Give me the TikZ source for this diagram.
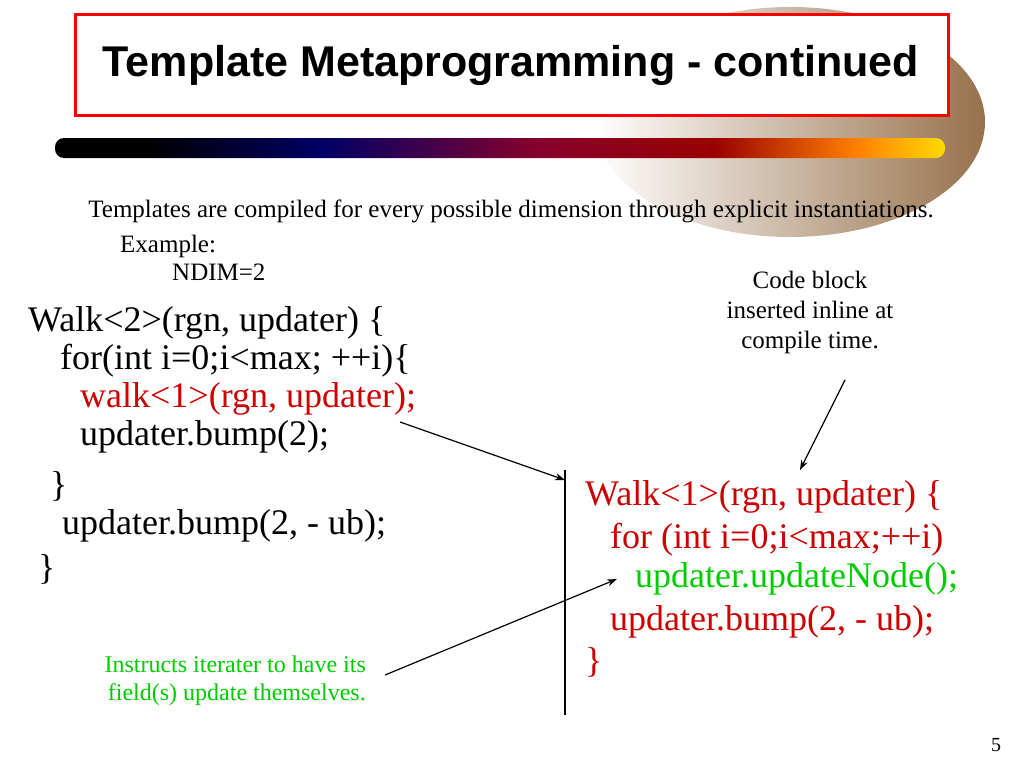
\documentclass[tikz,border=0pt]{standalone}
\usepackage{fontspec}
\setmainfont{Liberation Serif}
\newfontfamily\sansf{Liberation Sans}
\usetikzlibrary{arrows.meta}
\definecolor{codered}{RGB}{204,0,0}
\definecolor{codegreen}{RGB}{0,204,0}
\pgfdeclarehorizontalshading{barshade}{100bp}{color(0bp)=(black); color(30bp)=(black); color(40bp)=(blue!40!black); color(52bp)=(purple!70!black); color(62bp)=(red!60!black); color(70bp)=(orange); color(75bp)=(yellow!70!orange); color(100bp)=(yellow!70!orange)}
\begin{document}
\begin{tikzpicture}[x=1pt,y=-1pt,
  code/.style={anchor=west,inner sep=0pt,font=\fontsize{36}{40}\selectfont},
  small/.style={inner sep=0pt,font=\fontsize{25}{30}\selectfont},
  arr/.style={-{Stealth[length=10pt,width=7pt]},line width=1.2pt}]
\useasboundingbox (0,0) rectangle (1024,768);
\fill[white] (0,0) rectangle (1024,768);
% swoosh
\begin{scope}
\clip (600,0) rectangle (1024,260);
\shade[left color=white,right color=brown!70!black,opacity=0.85] (790,122) ellipse [x radius=195,y radius=115];
\end{scope}
% bar
\shade[shading=barshade,rounded corners=9pt] (55,138) rectangle (945,158);
% title
\draw[red,line width=3pt,fill=white] (75,15) rectangle (948,115);
\node[font=\sansf\bfseries\fontsize{43}{48}\selectfont] (title) at (511,65) {Template Metaprogramming - continued};
\node[small] (intro) at (511,211) {Templates are compiled for every possible dimension through explicit instantiations.};
\node[small,anchor=west] (ex) at (120,246) {Example:};
\node[small,anchor=west] (ndim) at (172,272) {NDIM=2};
% left code
\node[code] (l1) at (28,323) {Walk<2>(rgn, updater) \{};
\node[code] (l2) at (60,361) {for(int i=0;i<max; ++i)\{};
\node[code,text=codered] (l3) at (80,399) {walk<1>(rgn, updater);};
\node[code] (l4) at (80,437) {updater.bump(2);};
\node[code] (l5) at (50,486) {\}};
\node[code] (l6) at (62,526) {updater.bump(2, - ub);};
\node[code] (l7) at (38,569) {\}};
% right code
\begin{scope}[every node/.append style={text=codered}]
\node[code] (r1) at (585,497) {Walk<1>(rgn, updater) \{};
\node[code] (r2) at (610,540) {for (int i=0;i<max;++i)};
\node[code,text=codegreen] (r3) at (635,579) {updater.updateNode();};
\node[code] (r4) at (610,622) {updater.bump(2, - ub);};
\node[code] (r5) at (585,662) {\}};
\end{scope}
\node[small,align=center] (cb) at (810,312) {Code block\\inserted inline at\\compile time.};
\node[small,align=right,text=codegreen,anchor=east,font=\fontsize{24}{28}\selectfont] (ins) at (366,681) {Instructs iterater to have its\\field(s) update themselves.};
\node[font=\fontsize{20}{22}\selectfont] (pg) at (996,745) {5};
% lines
\coordinate (vt) at (565,470);
\coordinate (vb) at (565,715);
\draw[line width=1.2pt] (vt) -- (vb);
\coordinate (a1s) at (400,422);
\coordinate (a1e) at (565,480);
\coordinate (a2s) at (845,380);
\coordinate (a2e) at (800,470);
\coordinate (a3s) at (385,675);
\coordinate (a3e) at (617,579);
\draw[arr] (a1s) -- (a1e);
\draw[arr] (a2s) -- (a2e);
\draw[arr] (a3s) -- (a3e);
\end{tikzpicture}
\end{document}
